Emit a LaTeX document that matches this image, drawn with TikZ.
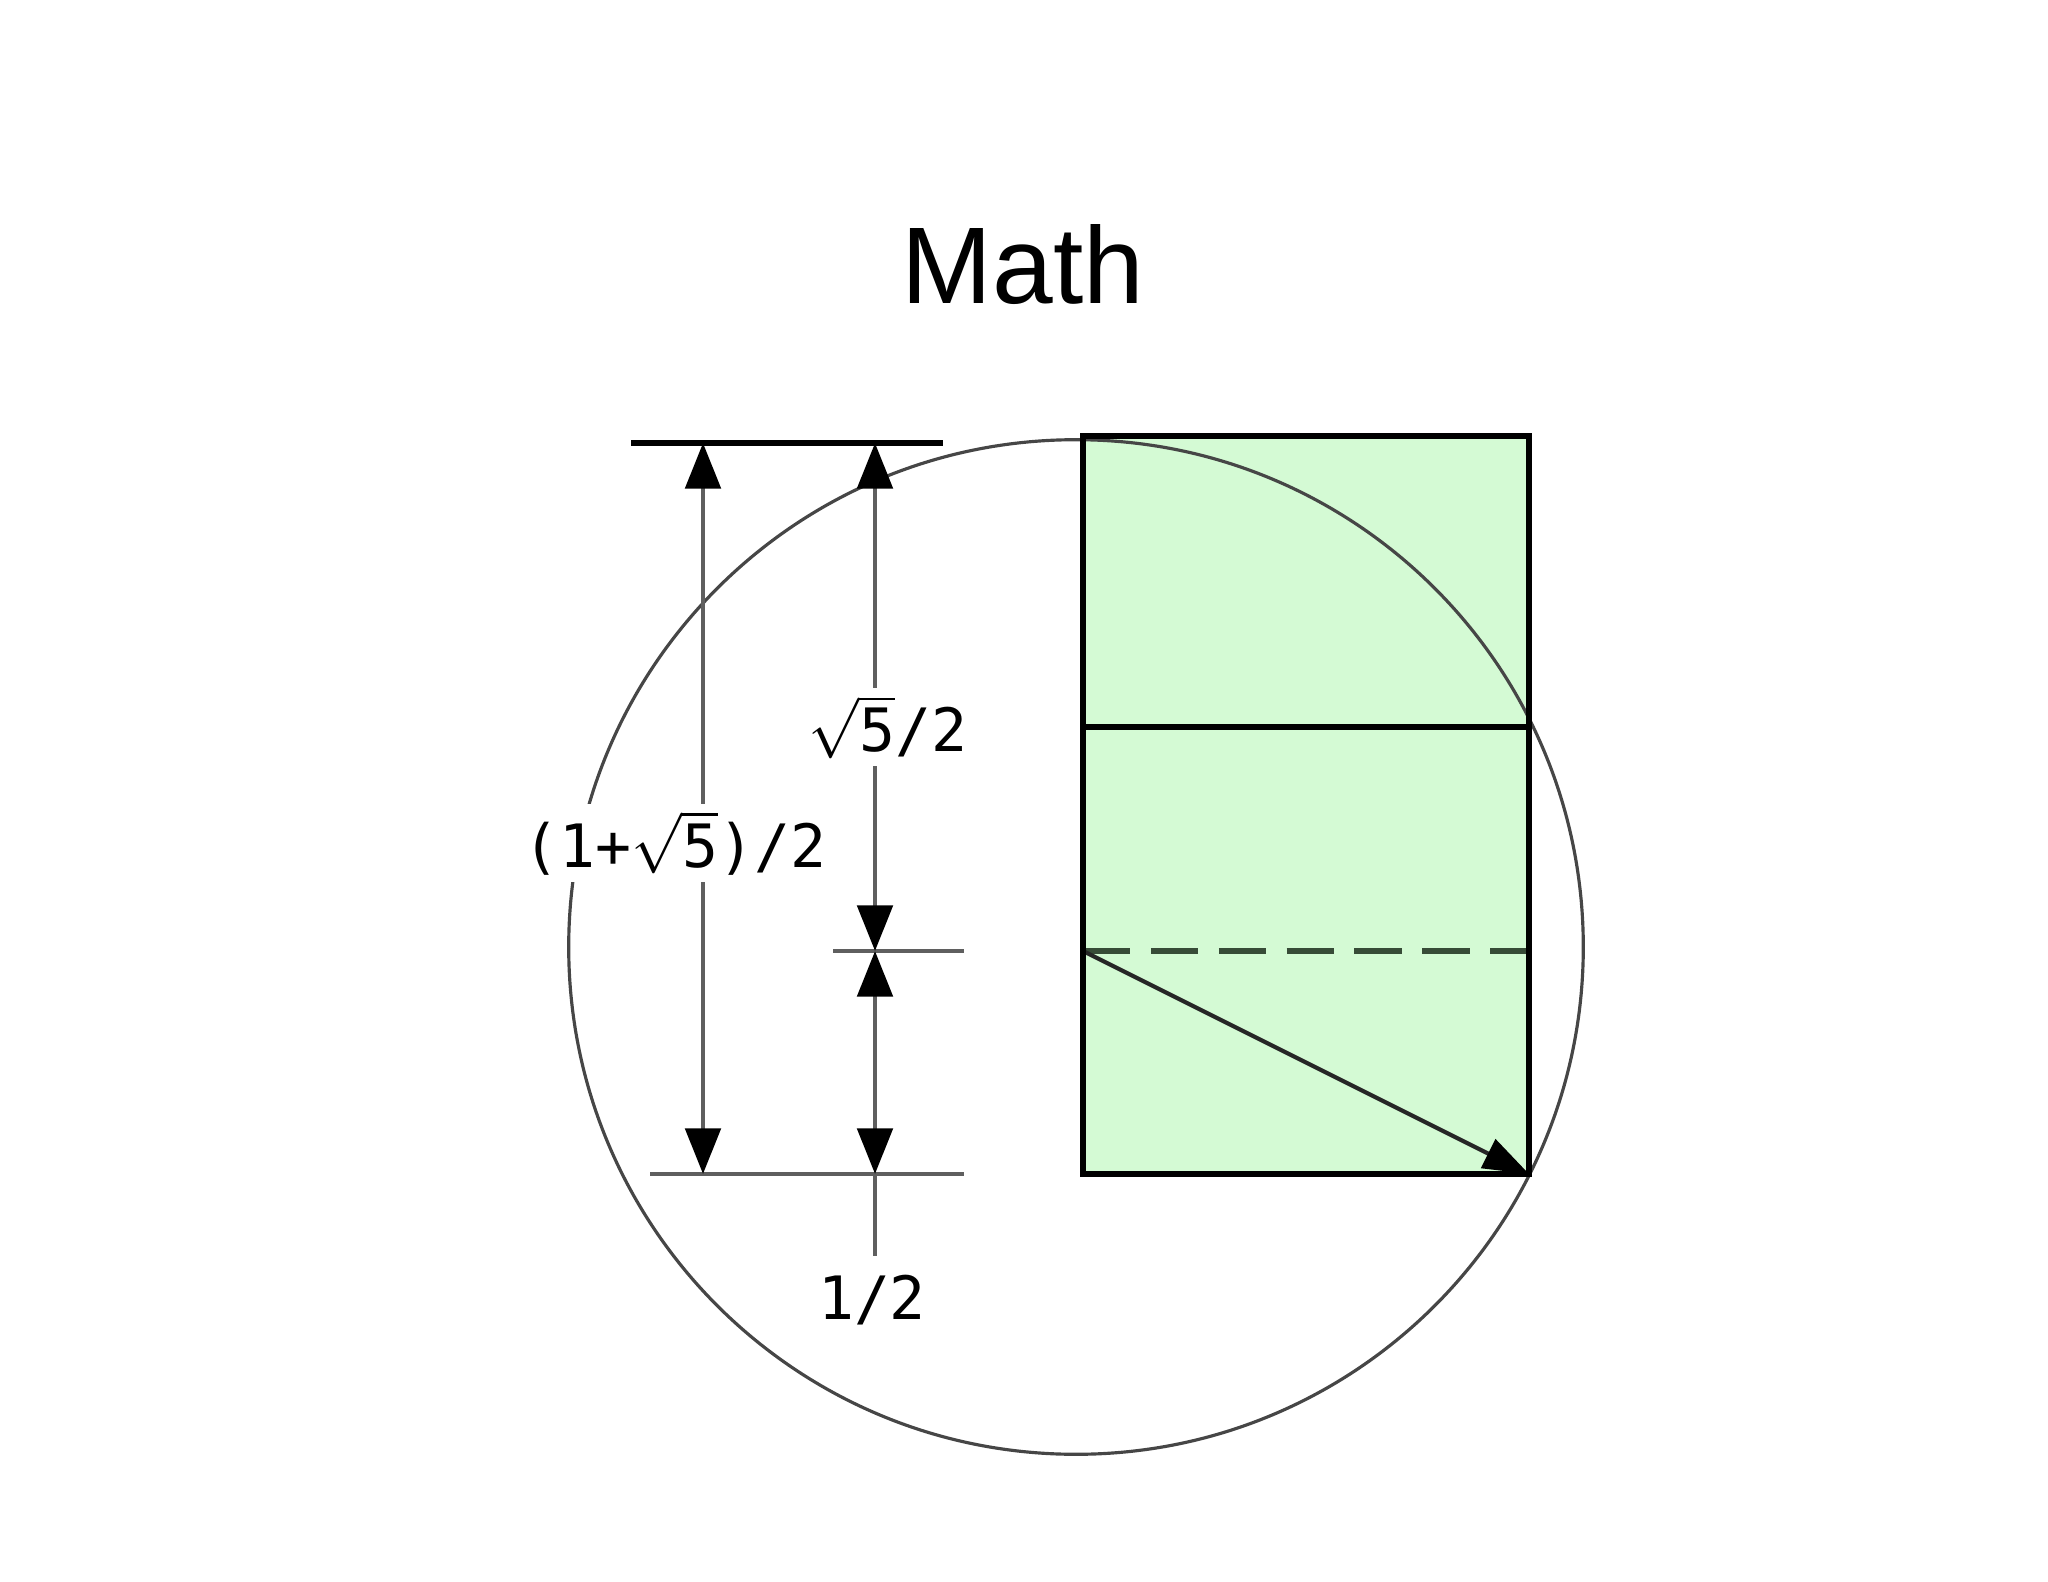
\documentclass[tikz,border=0pt]{standalone}
\usepackage{fontspec}
\setmainfont{Liberation Sans}
\newfontfamily\dimfont{DejaVu Sans Mono}
\usetikzlibrary{arrows.meta}
\definecolor{boxgreen}{RGB}{212,250,212}
\definecolor{dimgray}{RGB}{95,95,95}
\definecolor{circgray}{RGB}{70,70,70}
\definecolor{dashgray}{RGB}{55,75,55}
\newcommand{\rootfive}{\ensuremath{\sqrt{\mbox{5}}}}
\tikzset{
  dimline/.style={draw=dimgray, line width=1.4pt, {Triangle[length=13pt,width=10pt,color=black]}-{Triangle[length=13pt,width=10pt,color=black]}},
  extline/.style={draw=dimgray, line width=1.4pt},
  topline/.style={draw=black, line width=1.6pt},
  circ/.style={draw=circgray, line width=0.9pt},
  boxline/.style={draw=black, line width=1.9pt},
  dashline/.style={draw=dashgray, line width=1.8pt, dash pattern=on 13.5pt off 5.8pt},
  radline/.style={draw=black!85, line width=1.2pt, -{Triangle[length=13pt,width=9pt,color=black]}},
  dimlabel/.style={fill=white, inner sep=2pt, font=\fontsize{17}{20}\selectfont\dimfont}
}
\begin{document}
\begin{tikzpicture}[x=0.01cm, y=-0.01cm]
        \useasboundingbox (0,0) rectangle (2048,1582);
        % title
        \node[font=\fontsize{31}{37}\selectfont] (title) at (1023,265) {Math};
        % box corners
        \coordinate (boxtl) at (1083,436);
        \coordinate (sqtl) at (1083,727);
        \coordinate (sqtr) at (1529,727);
        \coordinate (midl) at (1083,951);
        \coordinate (midr) at (1529,951);
        \coordinate (boxbr) at (1529,1174);
        \coordinate (centre) at (1076,947);
        % dimension ends
        \coordinate (topl) at (631,443);
        \coordinate (topr) at (943,443);
        \coordinate (halfl) at (833,951);
        \coordinate (halfr) at (964,951);
        \coordinate (botl) at (650,1174);
        \coordinate (botr) at (964,1174);
        \coordinate (atop) at (703,443);
        \coordinate (abot) at (703,1174);
        \coordinate (btop) at (875,443);
        \coordinate (bmid) at (875,951);
        \coordinate (bbot) at (875,1174);
        \coordinate (bend) at (875,1256);
        % box fill
        \fill[boxgreen] (boxtl) rectangle (boxbr);
        % circle
        \draw[circ] (centre) circle[radius=5.07cm];
        % dimensions
        \draw[extline] (halfl) -- (halfr);
        \draw[extline] (botl) -- (botr);
        \draw[dimline] (atop) -- (abot);
        \draw[dimline] (btop) -- (bmid);
        \draw[dimline] (bmid) -- (bbot);
        \draw[extline] (bbot) -- (bend);
        \draw[topline] (topl) -- (topr);
        \node[dimlabel] (golden) at (675,843) {(1+\rootfive)/2};
        \node[dimlabel] (diag) at (888,727) {\rootfive/2};
        \node[dimlabel] (half) at (872,1300) {1/2};
        % box
        \draw[dashline] (midl) -- (midr);
        \draw[radline] (midl) -- (boxbr);
        \draw[boxline] (boxtl) rectangle (boxbr);
        \draw[boxline] (sqtl) -- (sqtr);
\end{tikzpicture}
\end{document}
